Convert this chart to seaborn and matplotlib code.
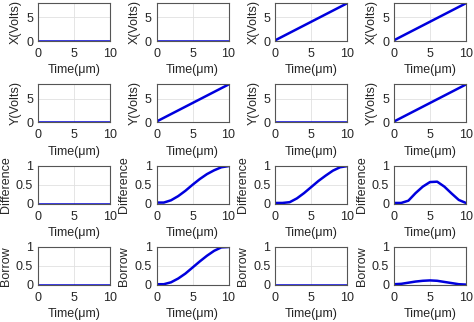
import matplotlib
matplotlib.use("Agg")
import matplotlib.pyplot as plt
import seaborn as sns
import pandas as pd

sns.set_theme(style="whitegrid")
plt.rcParams['font.family'] = ['Liberation Sans', 'DejaVu Sans']

time = [0, 1, 2, 3, 4, 5, 6, 7, 8, 9, 10]
zero = [0.0] * 11
ramp = [0.2, 0.98, 1.76, 2.54, 3.32, 4.1, 4.88, 5.66, 6.44, 7.22, 8.0]

diff_c2 = [0.03, 0.03, 0.09, 0.2, 0.34, 0.5, 0.65, 0.78, 0.88, 0.96, 0.99]
borrow_c2 = [0.02, 0.02, 0.07, 0.17, 0.3, 0.46, 0.62, 0.77, 0.9, 0.99, 1.0]
diff_c3 = [0.02, 0.02, 0.04, 0.14, 0.28, 0.44, 0.6, 0.74, 0.87, 0.96, 0.99]
diff_c4 = [0.02, 0.02, 0.08, 0.28, 0.45, 0.57, 0.58, 0.45, 0.27, 0.1, 0.02]
borrow_c4 = [0.02, 0.03, 0.06, 0.09, 0.11, 0.12, 0.11, 0.08, 0.05, 0.02, 0.01]

row_labels = ["X(Volts)", "Y(Volts)", "Difference", "Borrow"]
grid_data = [
    [zero, zero, ramp, ramp],
    [zero, ramp, zero, ramp],
    [zero, diff_c2, diff_c3, diff_c4],
    [zero, borrow_c2, zero, borrow_c4],
]

fig, axes = plt.subplots(4, 4, figsize=(4.74, 3.22), dpi=100)
fig.subplots_adjust(left=0.08, right=0.983, top=0.99, bottom=0.115,
                    wspace=0.65, hspace=1.14)

for r in range(4):
    for c in range(4):
        ax = axes[r, c]
        df = pd.DataFrame({"t": time, "v": grid_data[r][c]})
        sns.lineplot(data=df, x="t", y="v", ax=ax, color="#0000dd", linewidth=1.8)
        ax.set_xlim(0, 10)
        ax.set_xticks([0, 5, 10])
        if r < 2:
            ax.set_ylim(0, 8)
            ax.set_yticks([0, 5])
        else:
            ax.set_ylim(0, 1)
            ax.set_yticks([0, 0.5, 1])
            ax.set_yticklabels(["0", "0.5", "1"])
        ax.set_xlabel("Time(μm)", fontsize=9, labelpad=3)
        ax.set_ylabel(row_labels[r], fontsize=9, labelpad=3)
        ax.tick_params(axis="x", labelsize=9, length=0, pad=5)
        ax.tick_params(axis="y", labelsize=9, length=0, pad=3.5)
        ax.grid(True, color="#e0e0e0", linewidth=0.6)
        for s in ax.spines.values():
            s.set_color("#555555")
            s.set_linewidth(0.8)
        ax.set_facecolor("white")

fig.savefig("out.png", dpi=100)
